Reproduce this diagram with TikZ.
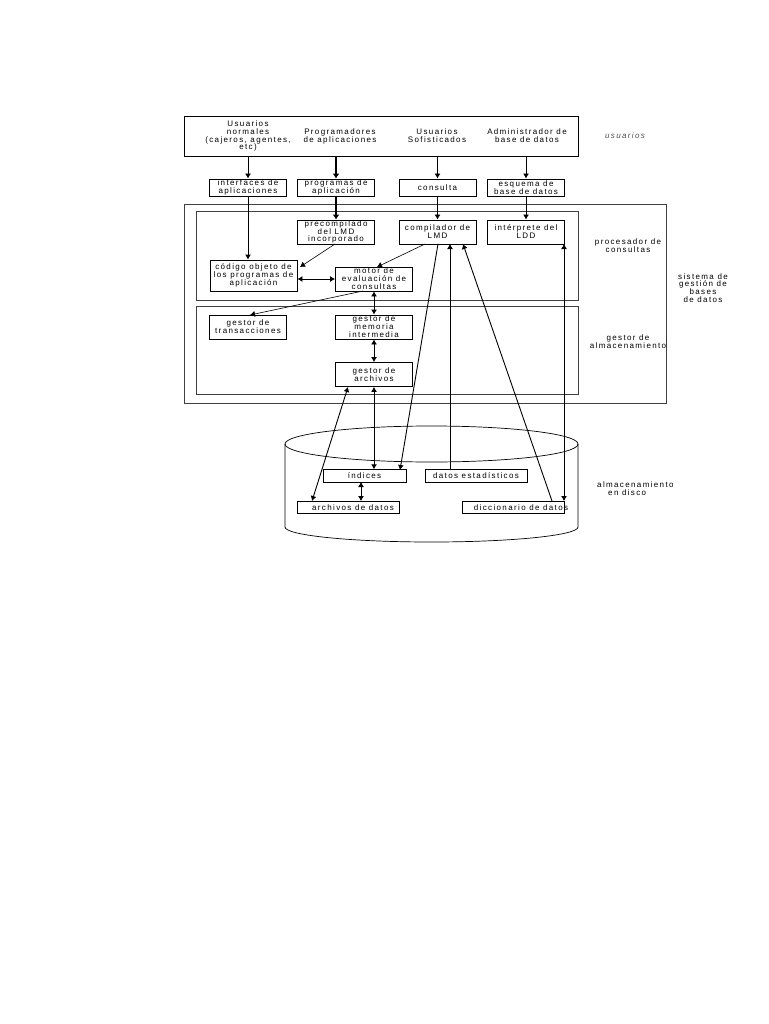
\documentclass[tikz,border=0pt]{standalone}
\usepackage{fontspec}
\setmainfont[LetterSpace=17]{Liberation Sans}
\usetikzlibrary{arrows.meta}
\tikzset{
  box/.style={draw, line width=.9pt, inner sep=0pt, align=center},
  smallbox/.style={box, minimum width=77pt, minimum height=17pt},
  midbox/.style={box, minimum width=77pt, minimum height=24pt},
  thinbox/.style={box, minimum height=12.5pt},
  frame/.style={draw=black!75, line width=.9pt},
  flow/.style={line width=.9pt, -{Latex[length=5pt,width=6pt]}},
  flowboth/.style={line width=.9pt, {Latex[length=5pt,width=6pt]}-{Latex[length=5pt,width=6pt]}},
  flowthick/.style={line width=1.6pt, -{Latex[length=5pt,width=7pt]}},
  slant/.style={flow, line width=.6pt},
  txt/.style={align=center, inner sep=0pt},
  every node/.append style={font=\fontsize{8}{7.9}\selectfont}
}
\begin{document}
\begin{tikzpicture}[x=1pt,y=-1pt]
  \useasboundingbox (0,0) rectangle (768,1024);
  % users
  \node[box, minimum width=394pt, minimum height=40pt] (users) at (381,136) {};
  \node[txt] (normales) at (248,136) {Usuarios\\normales\\(cajeros, agentes,\\etc)};
  \node[txt] (programadores) at (340,136) {Programadores\\de aplicaciones};
  \node[txt] (sofisticados) at (437,136) {Usuarios\\Sofisticados};
  \node[txt] (administrador) at (527,136) {Administrador de\\base de datos};
  \node[txt, text=black!70] (usuarios) at (625,136) {\itshape usuarios};
  % tools
  \node[smallbox] (interfaces) at (248,187.5) {interfaces de\\aplicaciones};
  \node[smallbox] (programas) at (336,187.5) {programas de\\aplicación};
  \node[smallbox] (consulta) at (437.5,187.5) {consulta};
  \node[smallbox] (esquema) at (526,187.5) {esquema de\\base de datos};
  % frames
  \node[frame, minimum width=482pt, minimum height=199pt] (sistema) at (425,303.5) {};
  \node[frame, minimum width=382pt, minimum height=89pt] (procesador) at (387,255.5) {};
  \node[frame, minimum width=382pt, minimum height=88pt] (almacen) at (387,350) {};
  % query processor
  \node[midbox] (precompilado) at (336,232) {precompilado\\del LMD\\incorporado};
  \node[midbox] (compilador) at (437.5,232) {compilador de\\LMD};
  \node[midbox] (interprete) at (526,232) {intérprete del\\LDD};
  \node[box, minimum width=87pt, minimum height=31pt] (codigo) at (253.5,275.5) {código objeto de\\los programas de\\aplicación};
  \node[midbox] (motor) at (374,279) {motor de\\evaluación de\\consultas};
  % storage manager
  \node[midbox] (transacciones) at (248,327) {gestor de\\transacciones};
  \node[midbox] (memoria) at (374,327) {gestor de\\memoria\\intermedia};
  \node[midbox] (archivos) at (374,374.5) {gestor de\\archivos};
  % disk
  \draw[line width=.7pt] (431.5,444) ellipse [x radius=146.5pt, y radius=18pt];
  \draw[line width=.7pt] (285,444) -- (285,527) arc [start angle=180, end angle=360, x radius=146.5pt, y radius=15pt] -- (578,444);
  \node[thinbox, minimum width=83pt] (indices) at (364.5,476) {índices};
  \node[thinbox, minimum width=102pt] (estadisticos) at (476,476) {datos estadísticos};
  \node[thinbox, minimum width=102pt] (datos) at (348,507.5) {\makebox[0pt]{\hspace*{10pt}archivos de datos}};
  \node[thinbox, minimum width=102pt] (diccionario) at (513,507.5) {\makebox[0pt]{\hspace*{16pt}diccionario de datos}};
  % side labels
  \node[txt] (lproc) at (628,246) {procesador de\\consultas};
  \node[txt] (lsis) at (703,288) {sistema de\\gestión de\\bases\\de datos};
  \node[txt] (lalm) at (628,342) {gestor de\\almacenamiento};
  \node[txt, align=left, anchor=west] (ldisco) at (597,489) {almacenamiento\\\hspace*{11pt}en disco};
  % free ends
  \coordinate (precoA) at (335,244);
  \coordinate (precoB) at (300,267);
  \coordinate (compA) at (425,244);
  \coordinate (compB) at (377,267);
  \coordinate (motorA) at (363,291);
  \coordinate (motorB) at (250,315);
  \coordinate (arcA) at (348,387);
  \coordinate (arcB) at (312,501);
  \coordinate (compC) at (438,244);
  \coordinate (indB) at (400,470);
  \coordinate (estA) at (450,470);
  \coordinate (estB) at (450,244);
  \coordinate (dicA) at (552,501);
  \coordinate (dicB) at (463,244);
  \coordinate (dicC) at (564,501);
  \coordinate (intB) at (564,244);
  \coordinate (indA) at (361,482);
  \coordinate (datB) at (361,501);
  % arrows
  \draw[flow] (users.south -| interfaces.north) -- (interfaces.north);
  \draw[flowthick] (users.south -| programas.north) -- (programas.north);
  \draw[flow] (users.south -| consulta.north) -- (consulta.north);
  \draw[flow] (users.south -| esquema.north) -- (esquema.north);
  \draw[flow] (interfaces.south) -- (interfaces.south |- codigo.north);
  \draw[flowthick] (programas.south) -- (precompilado.north);
  \draw[flow] (consulta.south) -- (compilador.north);
  \draw[flow] (esquema.south) -- (interprete.north);
  \draw[slant] (precoA) -- (precoB);
  \draw[slant] (compA) -- (compB);
  \draw[flowboth] (codigo.east |- motor.west) -- (motor.west);
  \draw[slant] (motorA) -- (motorB);
  \draw[flowboth] (motor.south) -- (memoria.north);
  \draw[flowboth] (memoria.south) -- (archivos.north);
  \draw[flowboth] (archivos.south) -- (archivos.south |- indices.north);
  \draw[flowboth] (arcA) -- (arcB);
  \draw[flow] (compC) -- (indB);
  \draw[flow] (estA) -- (estB);
  \draw[flow] (dicA) -- (dicB);
  \draw[flowboth] (dicC) -- (intB);
  \draw[flowboth] (indA) -- (datB);
\end{tikzpicture}
\end{document}
